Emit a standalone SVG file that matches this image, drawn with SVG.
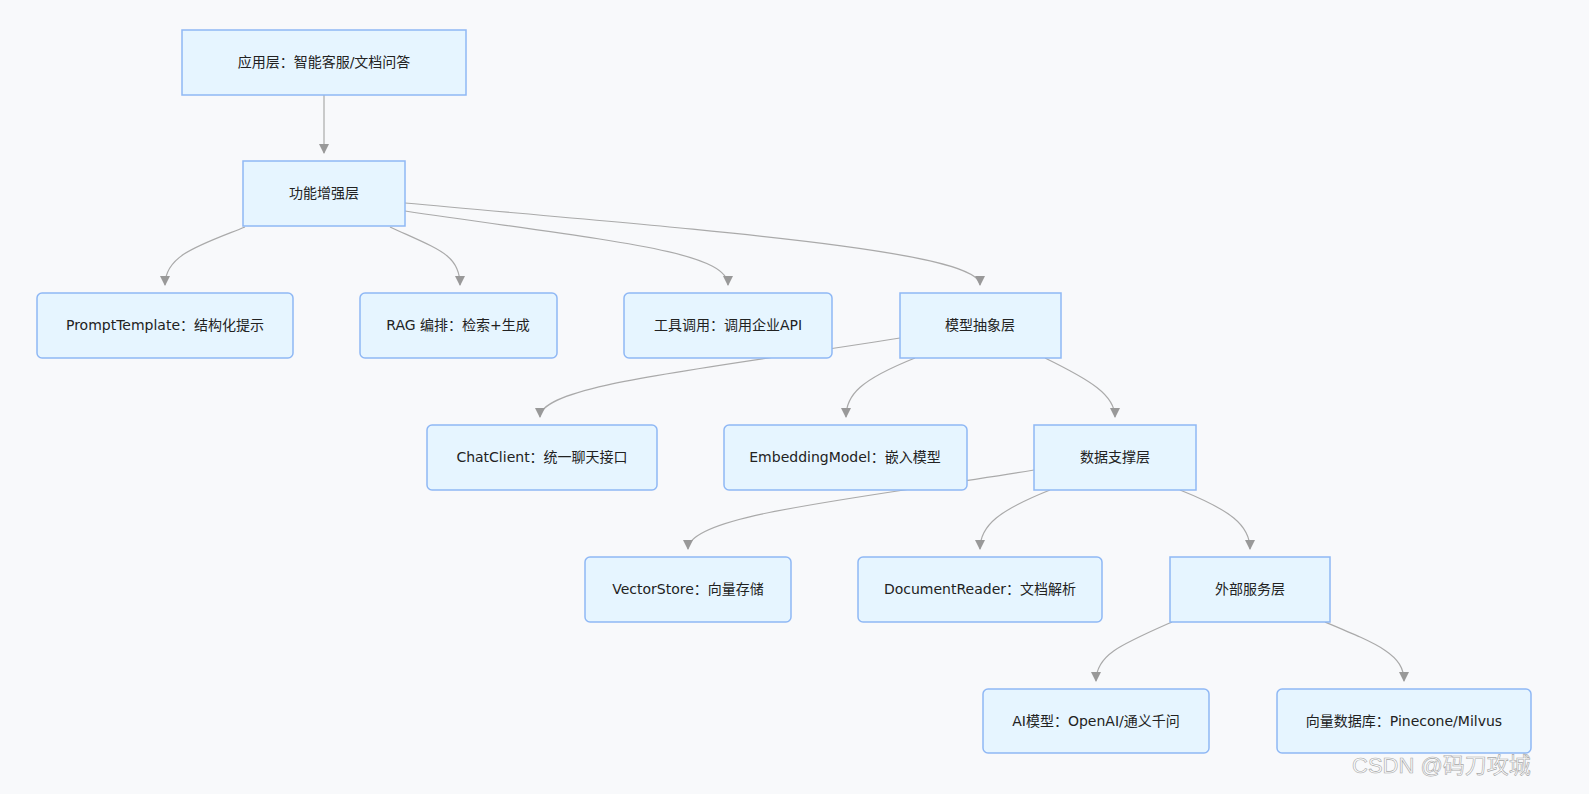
<svg xmlns="http://www.w3.org/2000/svg" width="1589" height="794" viewBox="0 0 1589 794">
<style>
.n rect{fill:#e6f5ff;stroke:#8fb8f5;stroke-width:1.5}
.n text{font-family:"DejaVu Sans","Noto Sans CJK SC",sans-serif;font-size:14px;fill:#222;text-anchor:middle;dominant-baseline:central}
.e path{fill:none;stroke:#aaa;stroke-width:1.2;marker-end:url(#a)}
.wm{font-family:"Liberation Sans","Noto Sans CJK SC",sans-serif;font-size:22px;fill:#fff;stroke:#999;stroke-width:0.6;opacity:.85}
</style>
<defs><marker id="a" viewBox="0 0 10 10" refX="9" refY="5" markerWidth="10" markerHeight="10" markerUnits="userSpaceOnUse" orient="auto"><path d="M0,0L10,5L0,10z" fill="#999"/></marker></defs>
<rect width="1589" height="794" fill="#f8f9fb"/>
<g class="e" id="connectors">
<path d="M324,95V153"/>
<path d="M245,227C200,245 165,255 165,285"/>
<path d="M390,227C440,250 460,255 460,285"/>
<path d="M405,211C600,240 728,250 728,285"/>
<path d="M405,203C700,230 980,250 980,285"/>
<path d="M900,338C700,370 540,385 540,417"/>
<path d="M915,358C860,380 846,395 846,417"/>
<path d="M1045,358C1090,380 1115,395 1115,417"/>
<path d="M1034,470C850,500 688,515 688,549"/>
<path d="M1050,490C1000,510 980,525 980,549"/>
<path d="M1180,490C1230,510 1250,525 1250,549"/>
<path d="M1172,622C1120,645 1096,655 1096,681"/>
<path d="M1325,622C1380,645 1404,655 1404,681"/>
</g>
<g class="n" id="app"><rect x="182" y="30" width="284" height="65"/><text x="324" y="62">应用层：智能客服/文档问答</text></g>
<g class="n" id="func"><rect x="243" y="161" width="162" height="65"/><text x="324" y="193">功能增强层</text></g>
<g class="n" id="pt"><rect x="37" y="293" width="256" height="65" rx="5"/><text x="165" y="325">PromptTemplate：结构化提示</text></g>
<g class="n" id="rag"><rect x="360" y="293" width="197" height="65" rx="5"/><text x="458" y="325">RAG 编排：检索+生成</text></g>
<g class="n" id="tool"><rect x="624" y="293" width="208" height="65" rx="5"/><text x="728" y="325">工具调用：调用企业API</text></g>
<g class="n" id="model"><rect x="900" y="293" width="161" height="65"/><text x="980" y="325">模型抽象层</text></g>
<g class="n" id="chat"><rect x="427" y="425" width="230" height="65" rx="5"/><text x="542" y="457">ChatClient：统一聊天接口</text></g>
<g class="n" id="emb"><rect x="724" y="425" width="243" height="65" rx="5"/><text x="845" y="457">EmbeddingModel：嵌入模型</text></g>
<g class="n" id="data"><rect x="1034" y="425" width="162" height="65"/><text x="1115" y="457">数据支撑层</text></g>
<g class="n" id="vs"><rect x="585" y="557" width="206" height="65" rx="5"/><text x="688" y="589">VectorStore：向量存储</text></g>
<g class="n" id="doc"><rect x="858" y="557" width="244" height="65" rx="5"/><text x="980" y="589">DocumentReader：文档解析</text></g>
<g class="n" id="ext"><rect x="1170" y="557" width="160" height="65"/><text x="1250" y="589">外部服务层</text></g>
<g class="n" id="ai"><rect x="983" y="689" width="226" height="64" rx="5"/><text x="1096" y="721">AI模型：OpenAI/通义千问</text></g>
<g class="n" id="vdb"><rect x="1277" y="689" width="254" height="64" rx="5"/><text x="1404" y="721">向量数据库：Pinecone/Milvus</text></g>
<text class="wm" x="1352" y="773">CSDN @码刀攻城</text>
</svg>
